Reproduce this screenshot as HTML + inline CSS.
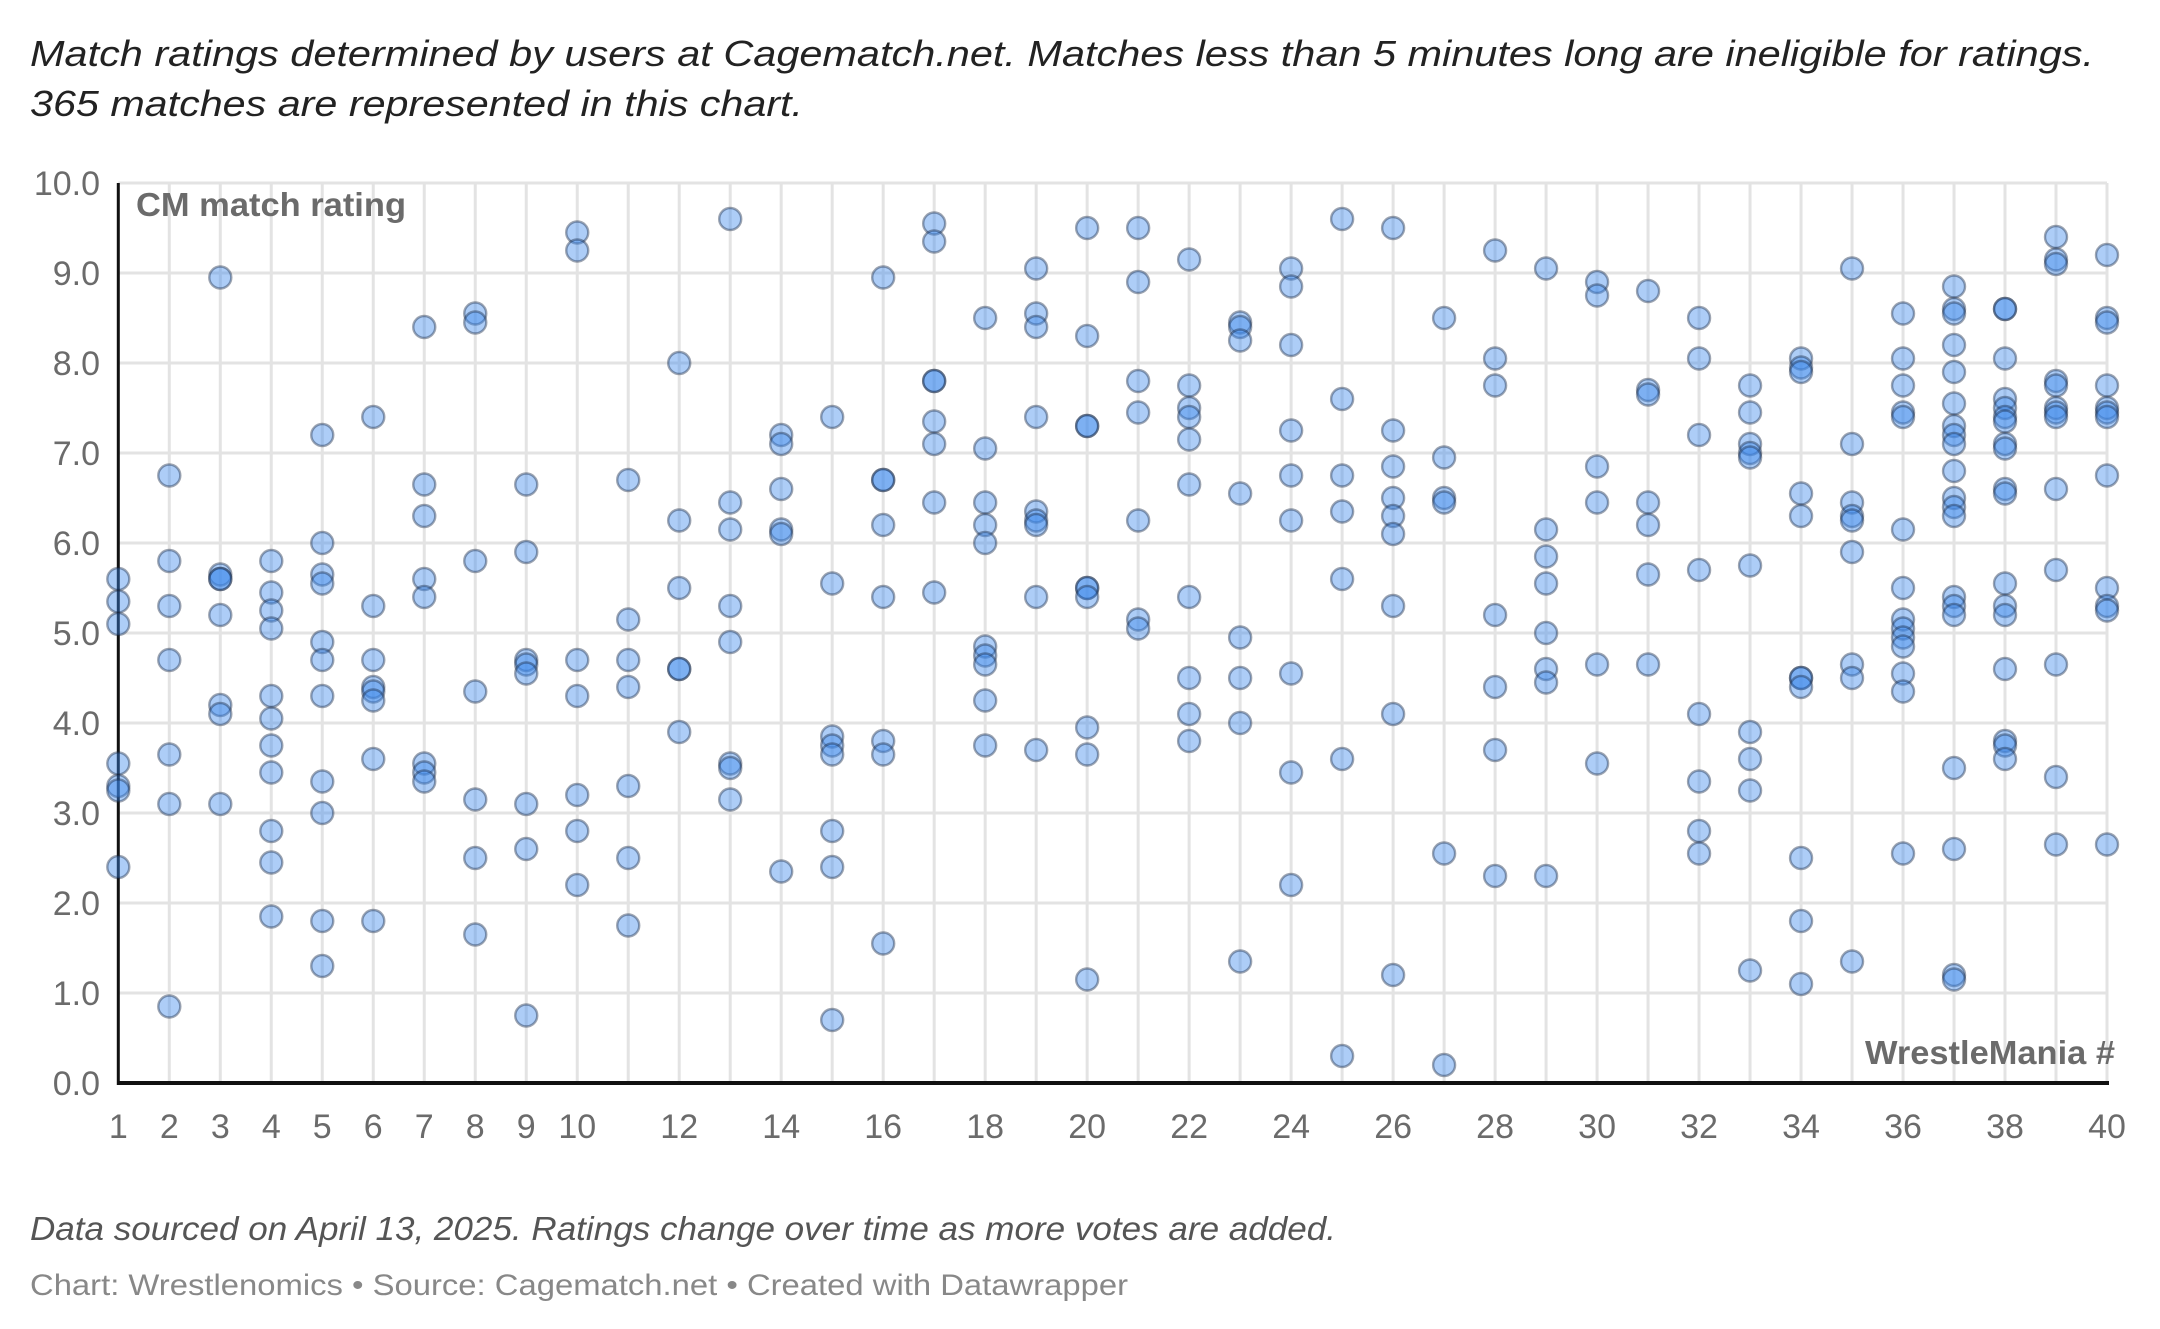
<!DOCTYPE html>
<html><head><meta charset="utf-8"><style>
html,body{margin:0;padding:0;background:#fff;}
svg{display:block;}
</style></head><body>
<svg id="s" width="2160" height="1329" viewBox="0 0 2160 1329" xmlns="http://www.w3.org/2000/svg" font-family="Liberation Sans, Arial, sans-serif">
<rect width="2160" height="1329" fill="#fff"/>
<text x="30" y="66" font-size="36" font-style="italic" fill="#222" textLength="2064" lengthAdjust="spacingAndGlyphs">Match ratings determined by users at Cagematch.net. Matches less than 5 minutes long are ineligible for ratings.</text>
<text x="30" y="116" font-size="36" font-style="italic" fill="#222" textLength="773" lengthAdjust="spacingAndGlyphs">365 matches are represented in this chart.</text>
<g id="grid"></g>
<g id="dots"></g>
<text x="136" y="216" font-size="33" font-weight="bold" fill="#6b6b6b" textLength="270" lengthAdjust="spacingAndGlyphs">CM match rating</text>
<text x="2115" y="1064" font-size="33" font-weight="bold" fill="#6b6b6b" text-anchor="end" textLength="250" lengthAdjust="spacingAndGlyphs">WrestleMania #</text>
<text x="30" y="1240" font-size="33" font-style="italic" fill="#555" textLength="1306" lengthAdjust="spacingAndGlyphs">Data sourced on April 13, 2025. Ratings change over time as more votes are added.</text>
<text x="30" y="1295" font-size="30" fill="#888" textLength="1098" lengthAdjust="spacingAndGlyphs">Chart: Wrestlenomics • Source: Cagematch.net • Created with Datawrapper</text>
</svg>
<script>
var NS="http://www.w3.org/2000/svg";
var L=118.3,R=2107,T=183,B=1083;
var dx=(R-L)/39, dy=(B-T)/10;
function X(w){return L+(w-1)*dx;}
function Y(r){return B-r*dy;}
function el(t,a,p){var e=document.createElementNS(NS,t);for(var k in a)e.setAttribute(k,a[k]);p.appendChild(e);return e;}
var g=document.getElementById('grid');
for(var i=1;i<=10;i++){el('line',{x1:L,x2:R,y1:Y(i),y2:Y(i),stroke:'#e3e3e3','stroke-width':3},g);}
for(var w=2;w<=40;w++){el('line',{x1:X(w),x2:X(w),y1:T,y2:B,stroke:'#e3e3e3','stroke-width':3},g);}
for(var i=0;i<=10;i++){var t=el('text',{x:100,y:Y(i)+12,'font-size':34,fill:'#6b6b6b','text-anchor':'end'},g);t.textContent=i.toFixed(1);}
for(var w=1;w<=40;w++){if(w<=10||w%2==0){var t=el('text',{x:X(w),y:1138,'font-size':34,fill:'#6b6b6b','text-anchor':'middle'},g);t.textContent=w;}}
el('line',{x1:L,x2:R+2,y1:B,y2:B,stroke:'#111','stroke-width':4},g);
el('line',{x1:L,x2:L,y1:T,y2:B+2,stroke:'#111','stroke-width':3},g);
var D={
1:[5.6,5.35,5.1,3.55,3.3,3.25,2.4],
2:[6.75,5.8,5.3,4.7,3.65,3.1,0.85],
3:[8.95,5.65,5.6,5.6,5.2,4.2,4.1,3.1],
4:[5.8,5.45,5.25,5.05,4.3,4.05,3.75,3.45,2.8,2.45,1.85],
5:[7.2,6.0,5.65,5.55,4.9,4.7,4.3,3.35,3.0,1.8,1.3],
6:[7.4,5.3,4.7,4.4,4.35,4.25,3.6,1.8],
7:[8.4,6.65,6.3,5.6,5.4,3.55,3.45,3.35],
8:[8.55,8.45,5.8,4.35,3.15,2.5,1.65],
9:[6.65,5.9,4.7,4.65,4.55,3.1,2.6,0.75],
10:[9.45,9.25,4.7,4.3,3.2,2.8,2.2],
11:[6.7,5.15,4.7,4.4,3.3,2.5,1.75],
12:[8.0,6.25,5.5,4.6,4.6,3.9],
13:[9.6,6.45,6.15,5.3,4.9,3.55,3.5,3.15],
14:[7.2,7.1,6.6,6.15,6.1,2.35],
15:[7.4,5.55,3.85,3.75,3.65,2.8,2.4,0.7],
16:[8.95,6.7,6.7,6.2,5.4,3.8,3.65,1.55],
17:[9.55,9.35,7.8,7.8,7.35,7.1,6.45,5.45],
18:[8.5,7.05,6.45,6.2,6.0,4.85,4.75,4.65,4.25,3.75],
19:[9.05,8.55,8.4,7.4,6.35,6.25,6.2,5.4,3.7],
20:[9.5,8.3,7.3,7.3,5.5,5.5,5.4,3.95,3.65,1.15],
21:[9.5,8.9,7.8,7.45,6.25,5.15,5.05],
22:[9.15,7.75,7.5,7.4,7.15,6.65,5.4,4.5,4.1,3.8],
23:[8.45,8.4,8.25,6.55,4.95,4.5,4.0,1.35],
24:[9.05,8.85,8.2,7.25,6.75,6.25,4.55,3.45,2.2],
25:[9.6,7.6,6.75,6.35,5.6,3.6,0.3],
26:[9.5,7.25,6.85,6.5,6.3,6.1,5.3,4.1,1.2],
27:[8.5,6.95,6.5,6.45,2.55,0.2],
28:[9.25,8.05,7.75,5.2,4.4,3.7,2.3],
29:[9.05,6.15,5.85,5.55,5.0,4.6,4.45,2.3],
30:[8.9,8.75,6.85,6.45,4.65,3.55],
31:[8.8,7.7,7.65,6.45,6.2,5.65,4.65],
32:[8.5,8.05,7.2,5.7,4.1,3.35,2.8,2.55],
33:[7.75,7.45,7.1,7.0,6.95,5.75,3.9,3.6,3.25,1.25],
34:[8.05,7.95,7.9,6.55,6.3,4.5,4.5,4.4,2.5,1.8,1.1],
35:[9.05,7.1,6.45,6.3,6.25,5.9,4.65,4.5,1.35],
36:[8.55,8.05,7.75,7.45,7.4,6.15,5.5,5.15,5.05,4.95,4.85,4.55,4.35,2.55],
37:[8.85,8.6,8.55,8.2,7.9,7.55,7.3,7.2,7.1,6.8,6.5,6.4,6.3,5.4,5.3,5.2,3.5,2.6,1.2,1.15],
38:[8.6,8.6,8.05,7.6,7.5,7.4,7.35,7.1,7.05,6.6,6.55,5.55,5.3,5.2,4.6,3.8,3.75,3.6],
39:[9.4,9.15,9.1,7.8,7.75,7.5,7.45,7.4,6.6,5.7,4.65,3.4,2.65],
40:[9.2,8.5,8.45,7.75,7.5,7.45,7.4,6.75,5.5,5.3,5.25,2.65]};
var d=document.getElementById('dots');
for(var k in D){D[k].forEach(function(r){el('circle',{cx:X(+k),cy:Y(r),r:11,fill:'rgba(60,135,235,0.42)',stroke:'rgba(25,40,70,0.42)','stroke-width':2.4},d);});}
</script>
</body></html>
